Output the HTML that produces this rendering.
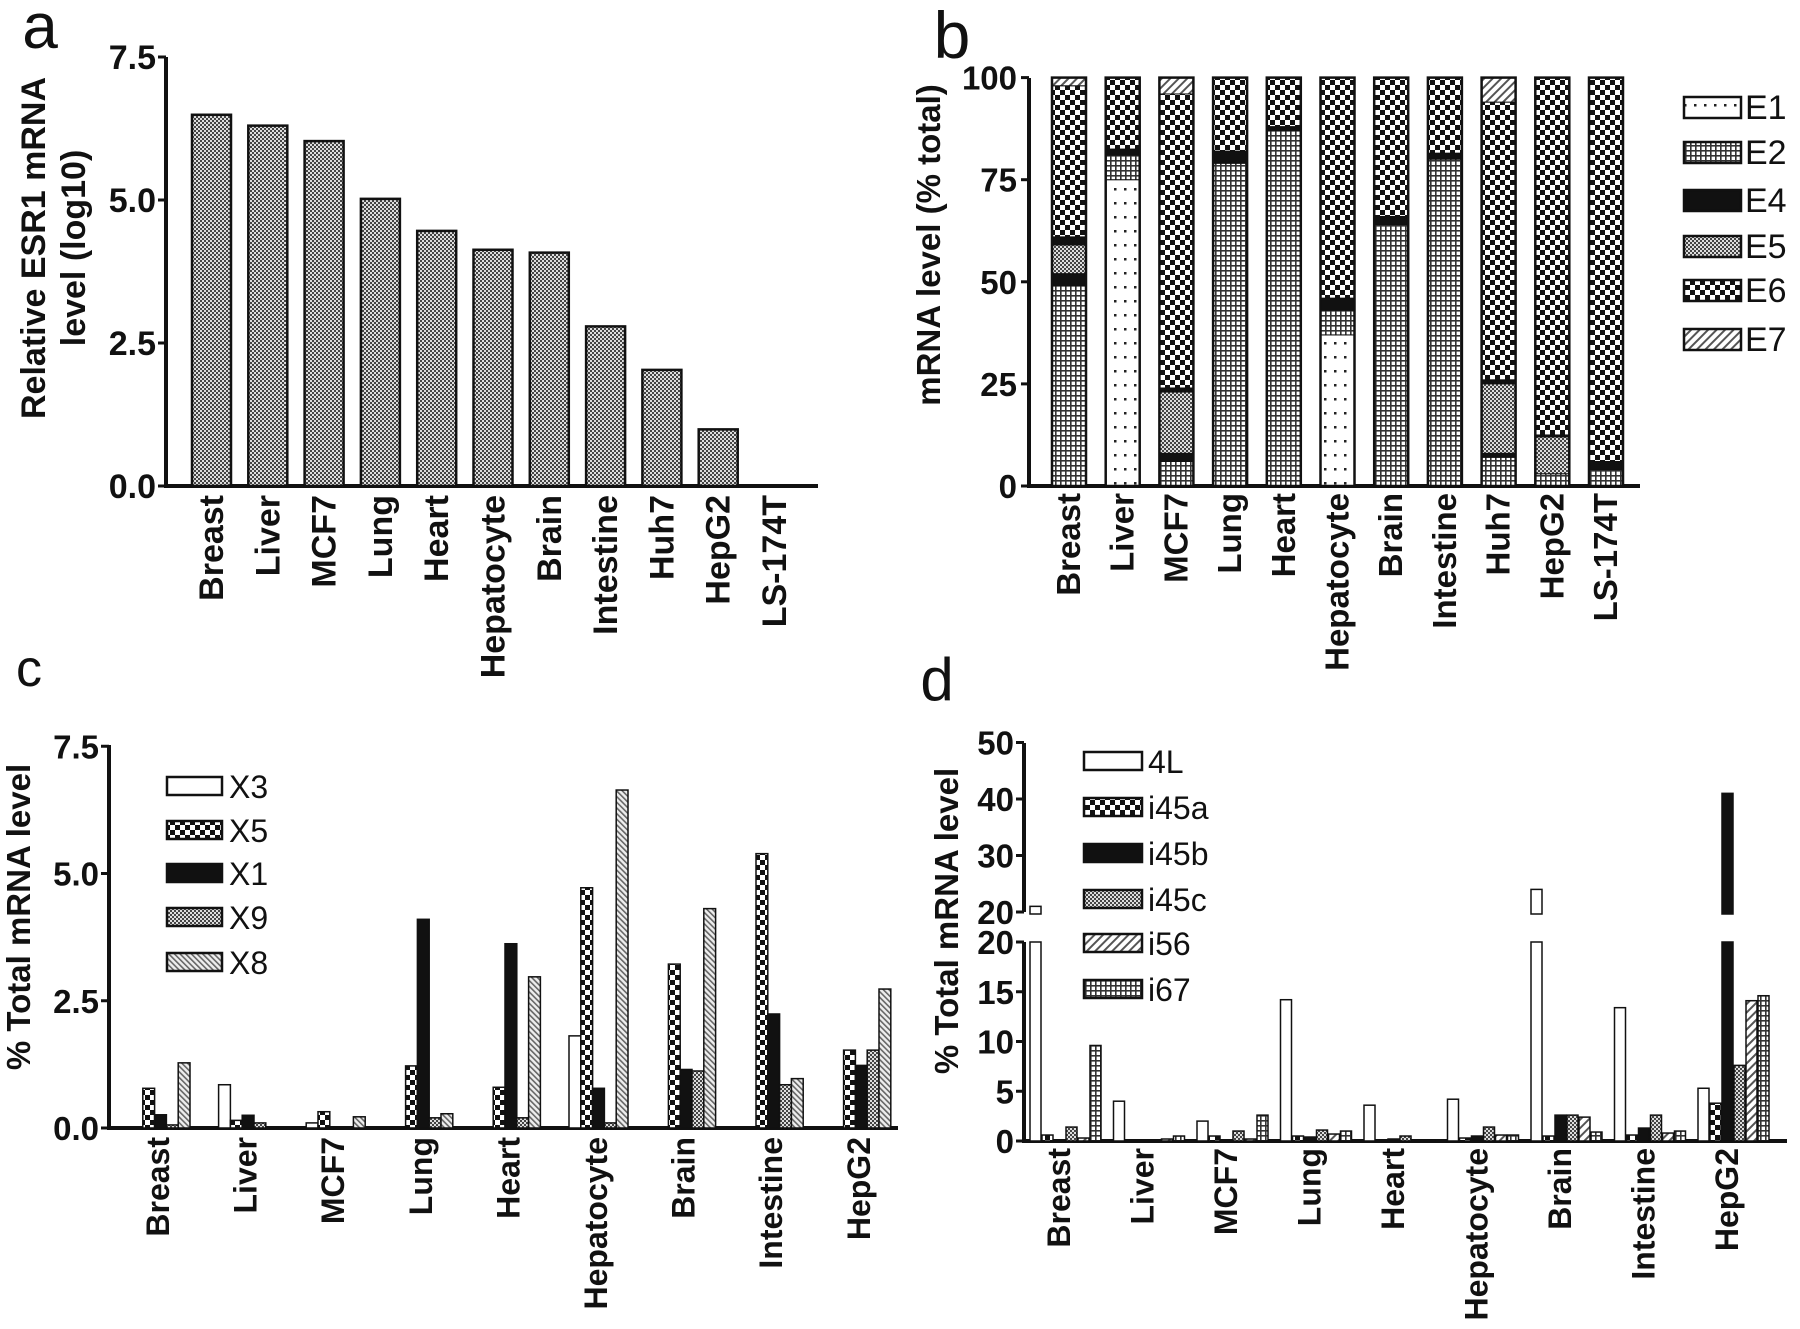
<!DOCTYPE html>
<html><head><meta charset="utf-8">
<style>html,body{margin:0;padding:0;background:#fff;overflow:hidden;}svg{display:block;}
text{font-family:"Liberation Sans",Arial,sans-serif;fill:#111;}</style></head>
<body>
<svg id="s" xmlns="http://www.w3.org/2000/svg" width="1800" height="1329" viewBox="0 0 1800 1329">
<defs>
<pattern id="pA" width="4" height="4" patternUnits="userSpaceOnUse"><rect width="4" height="4" fill="#ddd"/><rect width="2" height="2" fill="#444"/><rect x="2" y="2" width="2" height="2" fill="#444"/></pattern>
<pattern id="pCheck" width="10" height="10" patternUnits="userSpaceOnUse"><rect width="10" height="10" fill="#fff"/><rect width="5" height="5" fill="#111"/><rect x="5" y="5" width="5" height="5" fill="#111"/></pattern>
<pattern id="pGrid" width="5" height="5" patternUnits="userSpaceOnUse"><rect width="5" height="5" fill="#fff"/><rect width="5" height="1.6" fill="#333"/><rect width="1.6" height="5" fill="#333"/></pattern>
<pattern id="pDot" width="10" height="14" patternUnits="userSpaceOnUse"><rect width="10" height="14" fill="#fff"/><rect x="4" y="6" width="2.5" height="2.5" fill="#222"/></pattern>
<pattern id="pHatch" width="6" height="6" patternUnits="userSpaceOnUse" patternTransform="rotate(45)"><rect width="6" height="6" fill="#fff"/><rect width="2" height="6" fill="#555"/></pattern>
<pattern id="pX8" width="4" height="4" patternUnits="userSpaceOnUse" patternTransform="rotate(-45)"><rect width="4" height="4" fill="#eee"/><rect width="1.6" height="4" fill="#666"/></pattern>
</defs>
<g id="g"></g>
</svg>
<script>
var g=document.getElementById('g'),h='';
function R(x,y,w,hh,f,sw){h+='<rect x="'+x+'" y="'+y+'" width="'+w+'" height="'+hh+'" fill="'+f+'" stroke="#111" stroke-width="'+(sw==null?2:sw)+'"/>';}
function L(x1,y1,x2,y2,w){h+='<line x1="'+x1+'" y1="'+y1+'" x2="'+x2+'" y2="'+y2+'" stroke="#111" stroke-width="'+(w||4)+'"/>';}
function T(x,y,s,sz,a,b,rot){h+='<text x="'+x+'" y="'+y+'" font-size="'+sz+'" text-anchor="'+(a||'start')+'" font-weight="'+(b?'bold':'normal')+'"'+(rot?' transform="rotate(-90 '+x+' '+y+')"':'')+'>'+s+'</text>';}
function VT(x,y,s,sz){T(x,y,s,sz,'end',true,1);}
// Panel a
T(40,48,'a',64,'middle');
var ay0=486,ay1=57,ax=166,au=57.2;L(ax,ay1,ax,ay0+2);L(ax-2,ay0,818,ay0);
[[0,'0.0'],[2.5,'2.5'],[5,'5.0'],[7.5,'7.5']].forEach(function(t){var y=ay0-t[0]*au;L(ax-8,y,ax,y,3);T(ax-10,y+12,t[1],34,'end',true);});
var an=['Breast','Liver','MCF7','Lung','Heart','Hepatocyte','Brain','Intestine','Huh7','HepG2','LS-174T'],av=[6.49,6.30,6.03,5.02,4.46,4.13,4.08,2.79,2.03,0.99,0];
an.forEach(function(n,i){var x=192+i*56.3;if(av[i]>0)R(x,ay0-av[i]*au,39,av[i]*au,'url(#pA)',2.5);VT(x+31,495,n,34);});
T(45,248,'Relative ESR1 mRNA',34,'middle',true,1);T(85,248,'level (log10)',34,'middle',true,1);
// Panel b
T(952,58,'b',66,'middle');
var by0=486,bs=4.084,bx=1029;L(bx,78,bx,by0+2);L(bx-2,by0,1640,by0);
[0,25,50,75,100].forEach(function(v){var y=by0-v*bs;L(bx-8,y,bx,y,3);T(bx-12,y+12,v,33,'end',true);});
var F={E1:'url(#pDot)',E2:'url(#pGrid)',E4:'#111',E5:'url(#pA)',E6:'url(#pCheck)',E7:'url(#pHatch)'};
var st=[[['E2',49],['E4',3],['E5',7],['E4',2],['E6',37],['E7',2]],[['E1',75],['E2',6],['E4',1.5],['E6',17.5]],[['E2',6],['E4',2],['E5',15],['E4',1],['E6',72],['E7',4]],[['E2',79],['E4',3],['E6',18]],[['E2',87],['E4',1],['E6',12]],[['E1',37],['E2',6],['E4',3],['E6',54]],[['E2',64],['E4',2],['E6',34]],[['E2',80],['E4',1.5],['E6',18.5]],[['E2',7],['E4',1],['E5',17],['E4',1],['E6',68],['E7',6]],[['E2',3],['E5',9],['E4',0.5],['E6',87.5]],[['E2',4],['E4',2],['E6',94]]];
an.forEach(function(n,i){var x=1052+i*53.7,c=0;st[i].forEach(function(s){R(x,by0-(c+s[1])*bs,34,s[1]*bs,F[s[0]],s[0]=='E4'?0:1);c+=s[1];});R(x,by0-100*bs,34,100*bs,'none',2.5);VT(x+28,493,n,33);});
[['E1',107],['E2',152],['E4',200],['E5',246],['E6',290],['E7',339]].forEach(function(e){R(1684,e[1]-10,57,21,F[e[0]],2.5);T(1745,e[1]+12,e[0],34,'start');});
T(940,245,'mRNA level (% total)',33,'middle',true,1);
// Panel c
T(29,686,'c',52,'middle');
var cy0=1128,cu=50.9,cx=109;L(cx,745,cx,cy0+2);L(cx-2,cy0,898,cy0);
[[0,'0.0'],[2.5,'2.5'],[5,'5.0'],[7.5,'7.5']].forEach(function(t){var y=cy0-t[0]*cu;L(cx-8,y,cx,y,3);T(cx-10,y+12,t[1],33,'end',true);});
var cf=['#fff','url(#pCheck)','#111','url(#pA)','url(#pX8)'];
var cn=['Breast','Liver','MCF7','Lung','Heart','Hepatocyte','Brain','Intestine','HepG2'];
var cv=[[0,0.78,0.26,0.06,1.28],[0.85,0.15,0.25,0.1,0.02],[0.1,0.32,0,0,0.22],[0,1.22,4.1,0.2,0.28],[0,0.8,3.62,0.2,2.97],[1.81,4.72,0.78,0.1,6.64],[0,3.22,1.15,1.12,4.31],[0,5.39,2.24,0.85,0.97],[0,1.53,1.23,1.53,2.73]];
cn.forEach(function(n,i){var gx=131+i*87.6;cv[i].forEach(function(v,j){if(v>0)R(gx+j*11.8,cy0-v*cu,11.8,v*cu,cf[j],1.5);});VT(gx+38,1137,n,32);});
['X3','X5','X1','X9','X8'].forEach(function(n,j){var y=[786,830,873,917,962][j];R(167,y-9,55,18,cf[j],2.5);T(229,y+12,n,32,'start');});
T(30,917,'% Total mRNA level',33,'middle',true,1);
// Panel d
T(937,700,'d',60,'middle');
var dy0=1141,du=9.95,dx=1024,dub=912,duu=5.65;
L(dx,942,dx,dy0+2);L(dx,743,dx,912);L(dx-2,dy0,1787,dy0);
[0,5,10,15,20].forEach(function(v){var y=dy0-v*du;L(dx-8,y,dx,y,3);T(dx-10,y+12,v,33,'end',true);});
[20,30,40,50].forEach(function(v){var y=dub-(v-20)*duu;L(dx-8,y,dx,y,3);T(dx-10,y+12,v,33,'end',true);});
var df=['#fff','url(#pCheck)','#111','url(#pA)','url(#pHatch)','url(#pGrid)'];
var dv=[[21,0.6,0.1,1.4,0.3,9.6],[4,0.1,0.1,0.1,0.2,0.5],[2,0.5,0.05,1,0.2,2.6],[14.2,0.5,0.4,1.1,0.7,1],[3.6,0.1,0.2,0.5,0.1,0.1],[4.2,0.3,0.5,1.4,0.6,0.6],[24,0.5,2.6,2.6,2.4,0.9],[13.4,0.6,1.3,2.6,0.8,1],[5.3,3.8,41,7.6,14.1,14.6]];
cn.forEach(function(n,i){var gx=1030+i*83.5;dv[i].forEach(function(v,j){var x=gx+j*12;if(v>20){R(x,dy0-20*du,11,20*du,df[j],1.5);R(x,dub-(v-20)*duu,11,(v-20)*duu+2,df[j],1.5);}else if(v>0)R(x,dy0-v*du,11,v*du,df[j],1.5);});VT(gx+40,1148,n,32);});
['4L','i45a','i45b','i45c','i56','i67'].forEach(function(n,j){var y=[761,807,853,899,943,989][j];R(1084,y-9,58,18,df[j],2.5);T(1148,y+12,n,32,'start');});
T(958,921,'% Total mRNA level',33,'middle',true,1);
g.innerHTML=h;
</script>
</body></html>
